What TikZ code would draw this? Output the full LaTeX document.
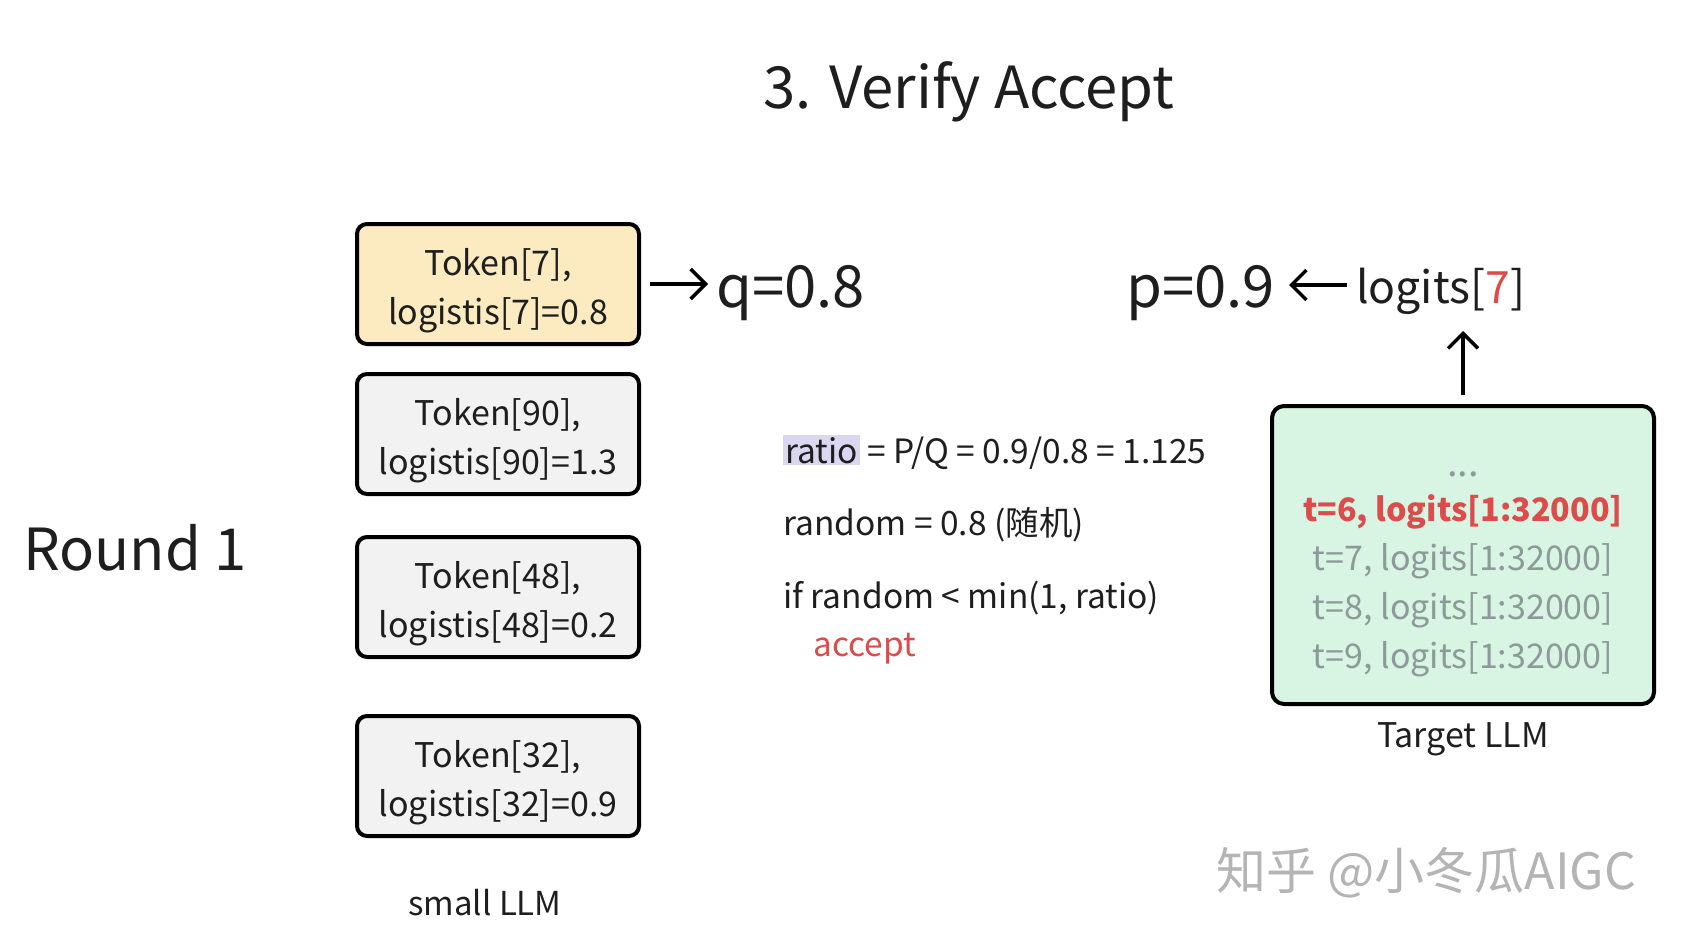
\documentclass[tikz,border=0pt]{standalone}
\usepackage{fontspec}
\setmainfont{Noto Sans CJK SC}
\usetikzlibrary{arrows.meta}
\definecolor{tokyellow}{HTML}{FCEBC0}
\definecolor{tokgrey}{HTML}{F2F2F2}
\definecolor{tgtgreen}{HTML}{D8F4E2}
\definecolor{hlred}{HTML}{DD4B4B}
\definecolor{dimgrey}{HTML}{8C9A9A}
\definecolor{txt}{HTML}{1E1E1E}
\definecolor{lav}{HTML}{DCD7F0}
\definecolor{wm}{HTML}{B4B4B4}
\tikzset{
  tokbox/.style={draw=black, line width=4pt, rounded corners=10pt, fill=tokgrey,
    minimum width=282pt, minimum height=120pt},
  boxtext/.style={align=center, text=txt, inner sep=0pt,
    font=\fontsize{34}{49}\selectfont},
  tgtbox/.style={draw=black, line width=4pt, rounded corners=12pt, fill=tgtgreen,
    minimum width=382pt, minimum height=298pt},
  arr/.style={line width=3.5pt, -{Straight Barb[length=15pt,width=30pt,line width=3.5pt]}},
  lbl/.style={text=txt, inner sep=0pt},
}
\begin{document}
\begin{tikzpicture}[x=1pt,y=-1pt]
\useasboundingbox (0,0) rectangle (1682,940);
\node[lbl, font=\fontsize{58}{58}\selectfont] (title) at (969,92) {3. Verify Accept};
\node[lbl, font=\fontsize{58}{58}\selectfont, anchor=west] (round) at (23,548) {Round 1};

\node[tokbox, fill=tokyellow] (t7) at (498,284) {};
\node[boxtext] (t7x) at ([yshift=-7pt]t7.center) {Token[7],\\logistis[7]=0.8};
\node[tokbox] (t90) at (498,434) {};
\node[boxtext] (t90x) at ([yshift=-7pt]t90.center) {Token[90],\\logistis[90]=1.3};
\node[tokbox] (t48) at (498,597) {};
\node[boxtext] (t48x) at ([yshift=-7pt]t48.center) {Token[48],\\logistis[48]=0.2};
\node[tokbox] (t32) at (498,776) {};
\node[boxtext] (t32x) at ([yshift=-7pt]t32.center) {Token[32],\\logistis[32]=0.9};
\node[lbl, font=\fontsize{33}{33}\selectfont] (small) at (485,903) {small LLM};

\node[lbl, font=\fontsize{58}{58}\selectfont, anchor=west] (q) at (716,293) {q=0.8};
\draw[arr, shorten <=9pt, shorten >=8pt] (t7.east) -- (q.west |- t7.east);

\node[lbl, font=\fontsize{58}{58}\selectfont, anchor=east] (p) at (1275,293) {p=0.9};
\node[lbl, font=\fontsize{44.5}{45}\selectfont, anchor=west] (lg) at (1356,291) {logits[\textcolor{hlred}{7}]};
\draw[arr, shorten <=9pt, shorten >=14pt] (lg.west |- 0,285) -- (p.east |- 0,285);

\node[tgtbox] (tgt) at (1463,555) {};
\draw[arr, shorten <=9pt] (tgt.north) -- (1463,331) coordinate (ub);
\node[inner sep=0pt, align=center, font=\fontsize{34}{49}\selectfont] (tgtxt) at (1463,574)
  {\textcolor{dimgrey}{\fontsize{38}{38}\selectfont ...}\\[-4pt]
   \textcolor{hlred}{\fontsize{32.3}{49}\selectfont\bfseries t=6, logits[1:32000]}\\
   \textcolor{dimgrey}{t=7, logits[1:32000]}\\
   \textcolor{dimgrey}{t=8, logits[1:32000]}\\
   \textcolor{dimgrey}{t=9, logits[1:32000]}};
\node[lbl, font=\fontsize{34}{34}\selectfont] (tlabel) at (1463,739) {Target LLM};

\node[lbl, anchor=base west, font=\fontsize{33.5}{34}\selectfont] (l1) at (783,463)
  {\setlength{\fboxsep}{2pt}\colorbox{lav}{ratio} = P/Q = 0.9/0.8 = 1.125};
\node[lbl, anchor=base west, font=\fontsize{33.5}{34}\selectfont] (l2) at (783,535) {random = 0.8 (随机)};
\node[lbl, anchor=base west, font=\fontsize{33.5}{34}\selectfont] (l3) at (783,608) {if random < min(1, ratio)};
\node[lbl, anchor=base west, font=\fontsize{33.5}{34}\selectfont, text=hlred] (l4) at (813,656) {accept};

\node[lbl, anchor=west, font=\fontsize{50}{50}\selectfont, text=wm] (wmk) at (1216,873) {知乎 @小冬瓜AIGC};
\end{tikzpicture}
\end{document}
